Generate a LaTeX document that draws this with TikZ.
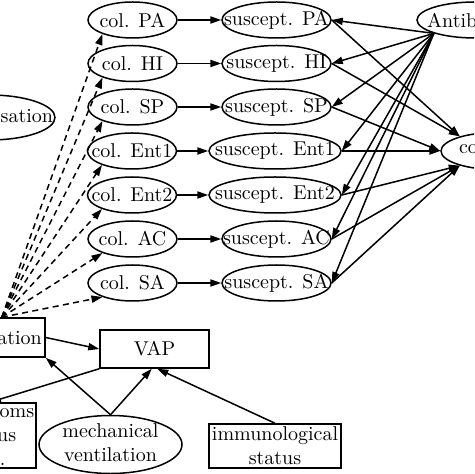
\documentclass[tikz,border=0pt]{standalone}
\usetikzlibrary{shapes.geometric,arrows.meta,calc}
\newcommand\mkc[1]{\makebox[0pt]{#1}}
\begin{document}
\begin{tikzpicture}[x=0.5pt,y=-0.5pt,
  every node/.style={font=\fontsize{10}{12}\selectfont},
  ell/.style={draw, ellipse, inner sep=0pt, minimum height=18pt},
  box/.style={draw, rectangle, inner sep=0pt, align=center},
  arr/.style={-{Triangle[length=5.5pt,width=3.6pt]}},
  dsh/.style={arr, dash pattern=on 3pt off 2.2pt},
  line width=0.75pt]
\useasboundingbox (0,0) rectangle (474,474);
\clip (0,0) rectangle (474,474);

% colonisation nodes
\node[ell, minimum width=44.5pt] (cPA) at (132.5,20)  {\mkc{col. PA}};
\node[ell, minimum width=44.5pt] (cHI) at (132.5,63.5){\mkc{col. HI}};
\node[ell, minimum width=44.5pt] (cSP) at (132.5,107) {\mkc{col. SP}};
\node[ell, minimum width=44.5pt] (cE1) at (132,151)   {\mkc{col. Ent1}};
\node[ell, minimum width=44.5pt] (cE2) at (132,195)   {\mkc{col. Ent2}};
\node[ell, minimum width=44.5pt] (cAC) at (132.5,239) {\mkc{col. AC}};
\node[ell, minimum width=44.5pt] (cSA) at (132.5,283) {\mkc{col. SA}};

% susceptibility nodes
\node[ell, minimum width=54.5pt] (sPA) at (276.5,20)  {\mkc{suscept. PA}};
\node[ell, minimum width=54.5pt] (sHI) at (276.5,63.5){\mkc{suscept. HI}};
\node[ell, minimum width=54.5pt] (sSP) at (276.5,107) {\mkc{suscept. SP}};
\node[ell, minimum width=66pt]   (sE1) at (275,151)   {\mkc{suscept. Ent1}};
\node[ell, minimum width=66pt]   (sE2) at (275,195)   {\mkc{suscept. Ent2}};
\node[ell, minimum width=54.5pt] (sAC) at (276.5,239) {\mkc{suscept. AC}};
\node[ell, minimum width=54.5pt] (sSA) at (276.5,283) {\mkc{suscept. SA}};

% other nodes
\node[ell, minimum width=58pt] (antib) at (475,20) {\mkc{Antibiotics}};
\node[ell, minimum width=55pt, minimum height=18.5pt] (cov) at (496,151) {\mkc{coverage}};
\node[ell, minimum width=65.5pt, minimum height=22.5pt] (hosp) at (-10.5,117.5) {\mkc{hospitalisation}};
\node[box, minimum width=55pt, minimum height=19.5pt] (colbox) at (-10,337.5) {colonisation};
\node[box, minimum width=54.5pt, minimum height=19pt] (vap) at (154.5,349) {VAP};
\node[box, minimum width=46pt, minimum height=32.5pt] (sym) at (-10,435.5) {symptoms\\status\\etc.};
\node[ell, minimum width=71.5pt, minimum height=29pt, inner ysep=-1.75pt] (mech) at (110.5,444.5)
  {\mkc{\begin{tabular}{@{}c@{}}mechanical\\ventilation\end{tabular}}};
\node[box, minimum width=66pt, minimum height=22pt] (imm) at (275,446) {immunological\\status};

% edges
\foreach \X in {PA,HI,SP,E1,E2,AC,SA}{
  \draw[arr] (c\X.east) -- (s\X.west);
  \draw[arr] (antib.198) -- (s\X.east);
  \draw[dsh] ($(colbox.north east)+(-44,0)$) -- (c\X.205);
}
\draw[arr] (sPA.east) -- (cov.158);
\draw[arr] (sHI.east) -- (cov.158);
\draw[arr] (sSP.east) -- (cov.west);
\draw[arr] (sE1.east) -- (cov.west);
\draw[arr] (sE2.east) -- (cov.202);
\draw[arr] (sAC.east) -- (cov.202);
\draw[arr] (sSA.east) -- (cov.202);

\draw[arr] (colbox.east) -- (vap.west);
\draw[arr] (mech.north) -- (colbox.south east);
\draw[arr] (mech.north) -- (vap.262);
\draw[arr] (imm.north) -- (vap.278);
\draw[arr] (vap.south west) -- (sym.north);
\end{tikzpicture}
\end{document}
